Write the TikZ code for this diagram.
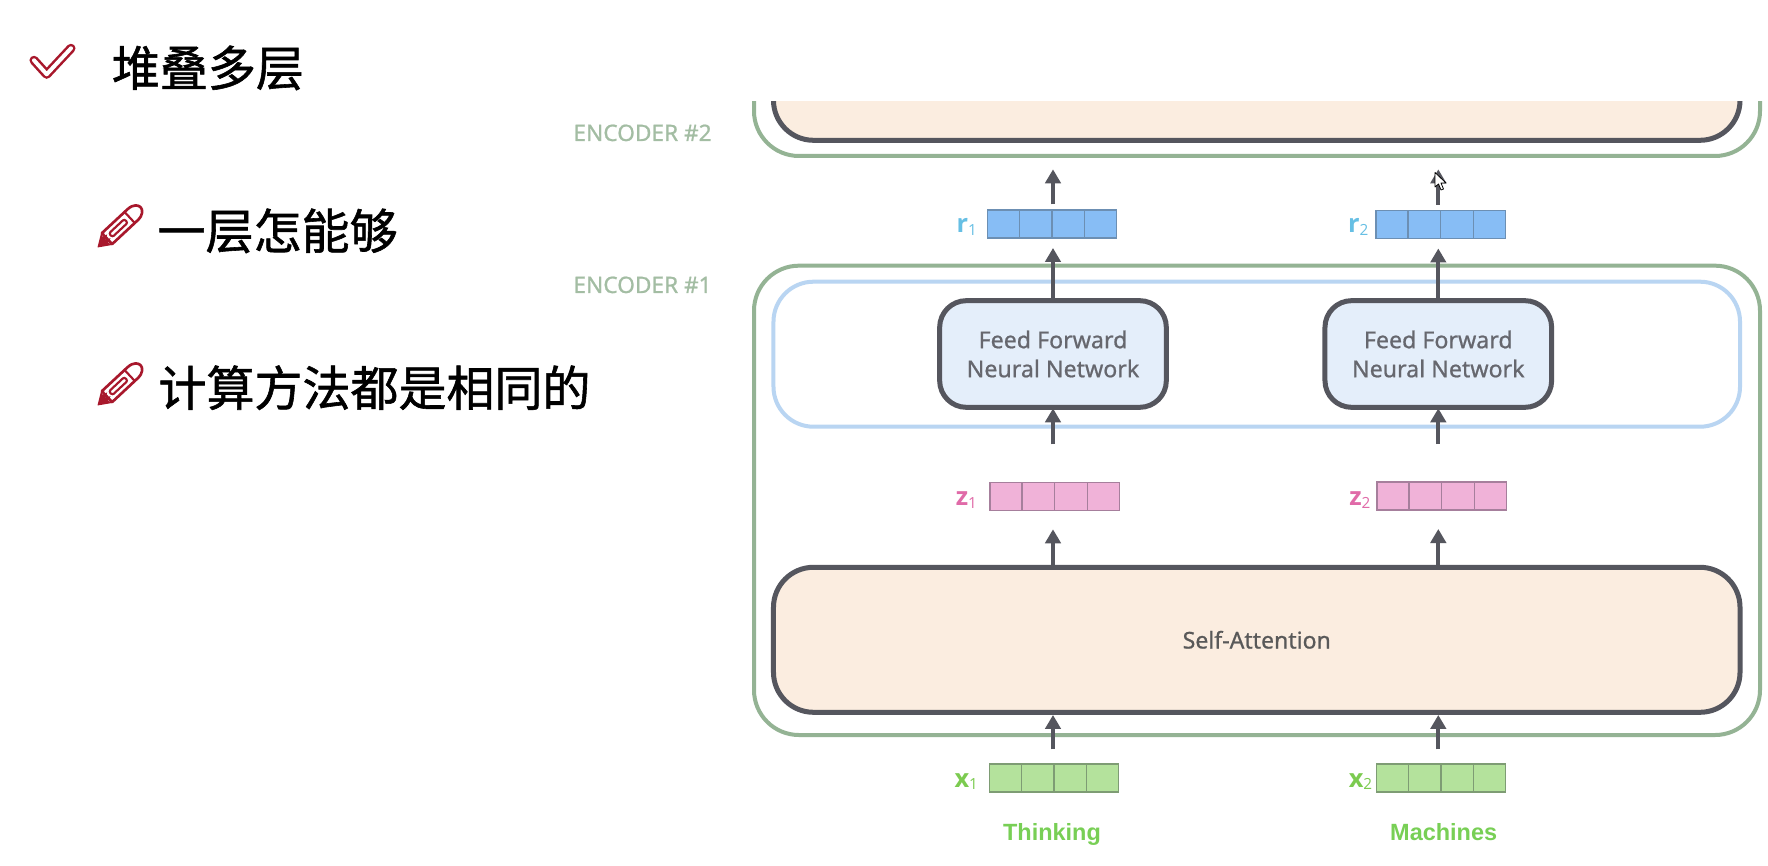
\documentclass[tikz,border=0pt]{standalone}
\usepackage{fontspec}
\setmainfont{Open Sans}
\newfontfamily\cjk{Noto Sans CJK SC}[RawFeature={embolden=1.2}]
\newfontfamily\boxfont{Noto Sans}[RawFeature={embolden=0.8}]
\newfontfamily\wordfont{Liberation Sans}
\usetikzlibrary{arrows.meta,shapes.multipart}

\definecolor{encgreen}{HTML}{94B394}
\definecolor{enctext}{HTML}{A3BDA3}
\definecolor{ffblue}{HTML}{B9D5F2}
\definecolor{ffill}{HTML}{E4EEFA}
\definecolor{peach}{HTML}{FBEDE0}
\definecolor{darkline}{HTML}{55565E}
\definecolor{iconred}{HTML}{A8182C}

\newcommand{\veclabel}[2]{{\fontsize{19}{20}\selectfont\bfseries #1}\raisebox{-2pt}{\fontsize{11.5}{11.5}\selectfont #2}}

\tikzset{every picture/.style={line width=0.75pt}}
\tikzset{
  encoder/.style={draw=encgreen,line width=3pt,rounded corners=33.75pt,minimum width=754.5pt,outer sep=0pt},
  layer/.style={draw=darkline,fill=peach,line width=3.75pt,rounded corners=30pt,minimum width=724.9pt,outer sep=0pt,
    text=black!65,font=\boxfont\fontsize{17.3}{21.75}\selectfont},
  ffn/.style={draw=ffblue,line width=3pt,rounded corners=30pt,minimum width=724.9pt,minimum height=108.75pt,outer sep=0pt},
  feed/.style={draw=darkline,fill=ffill,line width=3.75pt,rounded corners=20pt,minimum width=170pt,minimum height=80pt,
    outer sep=0pt,align=center,text=darkline!90,font=\boxfont\fontsize{17.4}{21.75}\selectfont},
  vec/.style={rectangle split,rectangle split horizontal,rectangle split parts=4,inner sep=0pt,outer sep=0pt,
    rectangle split empty part width=18.2pt,rectangle split empty part height=21pt,rectangle split empty part depth=0pt,
    line width=0.9pt},
  rvec/.style={vec,draw={rgb,255:red,108;green,143;blue,179},fill={rgb,255:red,135;green,189;blue,245}},
  zvec/.style={vec,draw={rgb,255:red,166;green,127;blue,156},fill={rgb,255:red,240;green,178;blue,216}},
  xvec/.style={vec,draw={rgb,255:red,126;green,156;blue,116},fill={rgb,255:red,180;green,226;blue,156}},
  enclabel/.style={anchor=base west,inner sep=0pt,text=enctext,font=\boxfont\fontsize{17}{20}\selectfont},
  veclab/.style={anchor=base east,inner sep=0pt},
  word/.style={anchor=base,text={rgb,255:red,120;green,207;blue,85},font=\wordfont\bfseries\fontsize{17.6}{20}\selectfont},
  head/.style={anchor=base west,inner sep=0pt,text=black,font=\cjk\fontsize{36}{40}\selectfont},
  arw/.style={draw=darkline,line width=3pt,-{Triangle[length=10.5pt,width=11.5pt]}},
  pencil/.pic={
    \draw[iconred,line width=2pt,fill=white,line join=round] (13,-7.5) -- (48,-7.5) .. controls (56,-7.5) and (59,-3) .. (59,0)
      .. controls (59,3) and (56,7.5) .. (48,7.5) -- (13,7.5) -- cycle;
    \draw[iconred,line width=1.6pt] (44,-7.5) -- (44,7.5);
    \draw[iconred,line width=1.6pt,rounded corners=1.5pt] (18,-2.5) rectangle (39,2.5);
    \fill[iconred] (0,0) -- (13,-8.5) -- (11,-4) -- (16,-2) -- (11,0) -- (16,3) -- (11,4) -- (13,8.5) -- cycle;
  },
}

\begin{document}
\begin{tikzpicture}[x=0.75pt,y=0.75pt,yscale=-1,xscale=1]
\path[use as bounding box,fill=white] (0,0) rectangle (1768,866);

%Check mark
\draw[double=white,double distance=3pt,line width=1.9pt,draw=iconred,line cap=round,line join=round]
  (34,60.3) -- (46.7,74.3) -- (71,48.3);
%Pencils
\pic[rotate=43] at (97.5,247.5) {pencil};
\pic[rotate=43] at (97.5,405.5) {pencil};

%Headings
\node[head] (title) at (111.4,86) {堆叠多层};
\node[head] (point1) at (157.1,249) {一层怎能够};
\node[head] (point2) at (158,406) {计算方法都是相同的};

%Encoder labels
\node[enclabel] (enc2label) at (573,141) {ENCODER \#2};
\node[enclabel] (enc1label) at (573,293) {ENCODER \#1};

%Encoder 2, cut off at the top
\begin{scope}
\clip (0,101.5) rectangle (1768,300);
\node[encoder,minimum height=150pt] (enc2) at (1257,56) {};
\node[layer,minimum height=135pt] (sa2) at (1256.75,50.3) {};
\end{scope}

%Encoder 1
\node[encoder,minimum height=352pt] (enc1) at (1257,500.35) {};
\node[ffn] (ffnbox) at (1256.75,354.2) {};
\node[feed] (ff1) at (1053,354) {Feed Forward\\Neural Network};
\node[feed] (ff2) at (1438.3,354) {Feed Forward\\Neural Network};
\node[layer,minimum height=108.75pt] (sa) at (1256.75,639.8) {Self-Attention};

%Vectors
\node[rvec] (r1) at (1052,224) {};
\node[rvec] (r2) at (1440.6,224.5) {};
\node[zvec] (z1) at (1054.5,496.3) {};
\node[zvec] (z2) at (1441.5,496) {};
\node[xvec] (x1) at (1053.9,778) {};
\node[xvec] (x2) at (1441,778) {};

%Vector labels
\node[veclab,text={rgb,255:red,102;green,191;blue,228}] (r1label) at (977.5,233) {\veclabel{r}{1}};
\node[veclab,text={rgb,255:red,102;green,191;blue,228}] (r2label) at (1369,233) {\veclabel{r}{2}};
\node[veclab,text={rgb,255:red,224;green,106;blue,168}] (z1label) at (977.5,505.7) {\veclabel{z}{1}};
\node[veclab,text={rgb,255:red,224;green,106;blue,168}] (z2label) at (1371,505.7) {\veclabel{z}{2}};
\node[veclab,text={rgb,255:red,124;green,203;blue,80}] (x1label) at (978.5,787) {\veclabel{x}{1}};
\node[veclab,text={rgb,255:red,124;green,203;blue,80}] (x2label) at (1372.7,787) {\veclabel{x}{2}};

%Input words
\node[word] (thinking) at (1052,840.5) {Thinking};
\node[word] (machines) at (1443.7,840.5) {Machines};

%Arrows, first column
\draw[arw,shorten <=11pt,shorten >=2pt] (ff1 |- x1.north) -- (ff1 |- sa.south);
\draw[arw,shorten <=-1pt,shorten >=14.25pt] (ff1 |- sa.north) -- (ff1 |- z1.south);
\draw[arw,shorten <=28.5pt,shorten >=0.75pt] (ff1 |- z1.north) -- (ff1.south);
\draw[arw,shorten >=7.5pt] (ff1.north) -- (ff1 |- r1.south);
\draw[arw,shorten <=4.3pt,shorten >=10pt] (ff1 |- r1.north) -- (ff1 |- enc2.south);

%Arrows, second column
\draw[arw,shorten <=11pt,shorten >=2pt] (ff2 |- x2.north) -- (ff2 |- sa.south);
\draw[arw,shorten <=-1pt,shorten >=14.25pt] (ff2 |- sa.north) -- (ff2 |- z2.south);
\draw[arw,shorten <=28.5pt,shorten >=0.75pt] (ff2 |- z2.north) -- (ff2.south);
\draw[arw,shorten >=7.5pt] (ff2.north) -- (ff2 |- r2.south);
\draw[arw,shorten <=4.3pt,shorten >=10pt] (ff2 |- r2.north) -- (ff2 |- enc2.south);

%Mouse pointer
\draw[fill=white,line width=0.6pt,line join=round] (1435,172.5) -- (1435,187) -- (1438.5,184) -- (1441,190) -- (1443.5,189) -- (1441,183) -- (1446,183) -- cycle;

\end{tikzpicture}
\end{document}
